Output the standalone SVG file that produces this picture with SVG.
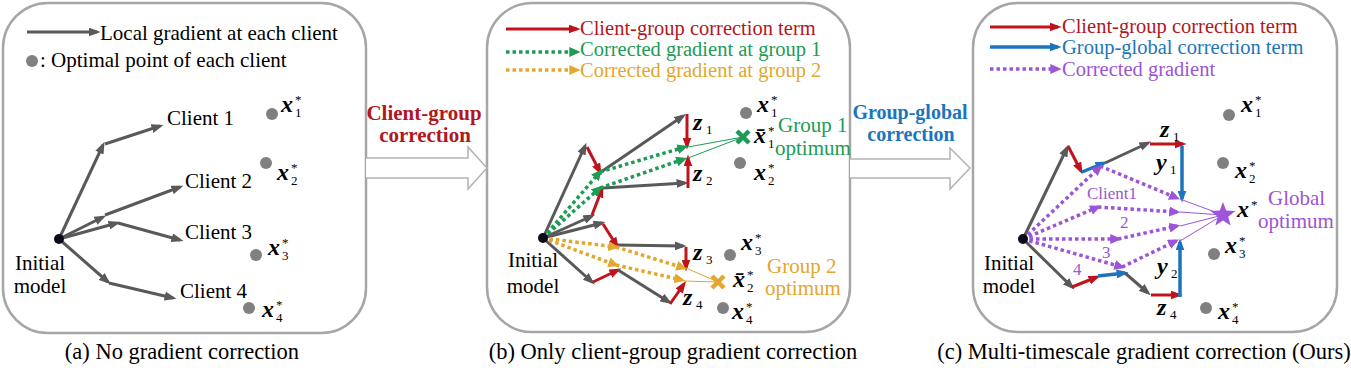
<svg xmlns="http://www.w3.org/2000/svg" width="1351" height="368" viewBox="0 0 1351 368">
<defs>
<style>
text{font-family:"Liberation Serif","Times New Roman",serif;}
.t{font-size:21px;fill:#000}
.lg{font-size:20.5px}
.cap{font-size:22.5px;text-anchor:middle;fill:#000}
.bl{font-size:20px;font-weight:bold;text-anchor:middle}
.m{font-size:24px;font-style:italic;font-weight:bold;fill:#000}
.s{font-size:13px;font-style:normal;font-weight:normal}
.pl{font-size:17px;fill:#9b55d6}
.box{fill:#fff;stroke:#a6a6a6;stroke-width:2.5}
.blk{fill:#fff;stroke:#b3b3b3;stroke-width:1.5}
.g{stroke:#595959;stroke-width:3;fill:none;marker-end:url(#ag)}
.r{stroke:#c0141c;stroke-width:3;fill:none;marker-end:url(#ar)}
.b{stroke:#1c75bc;stroke-width:3.5;fill:none;marker-end:url(#ab)}
.dg{stroke:#1c9c55;stroke-width:3.5;stroke-dasharray:3.5 3;fill:none;marker-end:url(#agr)}
.do{stroke:#e2a72e;stroke-width:3.5;stroke-dasharray:3.5 3;fill:none;marker-end:url(#ao)}
.dp{stroke:#9b55d6;stroke-width:3.5;stroke-dasharray:3.5 3;fill:none;marker-end:url(#ap)}
.thg{stroke:#1c9c55;stroke-width:1;fill:none}
.tho{stroke:#e2a72e;stroke-width:1;fill:none}
.thp{stroke:#9b55d6;stroke-width:1;fill:none}
.dot{fill:#808080}
.red{fill:#b3161e}
.grn{fill:#1c9c55}
.org{fill:#e2a72e}
.blu{fill:#1c75bc}
.pur{fill:#9b55d6}
</style>
<marker id="ag" viewBox="0 0 10 10" refX="7" refY="5" markerWidth="12" markerHeight="9" markerUnits="userSpaceOnUse" orient="auto" preserveAspectRatio="none"><path d="M0,0 L10,5 L0,10 z" fill="#595959"/></marker>
<marker id="ar" viewBox="0 0 10 10" refX="7" refY="5" markerWidth="12" markerHeight="9" markerUnits="userSpaceOnUse" orient="auto" preserveAspectRatio="none"><path d="M0,0 L10,5 L0,10 z" fill="#c0141c"/></marker>
<marker id="ab" viewBox="0 0 10 10" refX="7" refY="5" markerWidth="12" markerHeight="9" markerUnits="userSpaceOnUse" orient="auto" preserveAspectRatio="none"><path d="M0,0 L10,5 L0,10 z" fill="#1c75bc"/></marker>
<marker id="agr" viewBox="0 0 10 10" refX="7" refY="5" markerWidth="11" markerHeight="10" markerUnits="userSpaceOnUse" orient="auto" preserveAspectRatio="none"><path d="M0,0 L10,5 L0,10 z" fill="#1c9c55"/></marker>
<marker id="ao" viewBox="0 0 10 10" refX="7" refY="5" markerWidth="11" markerHeight="10" markerUnits="userSpaceOnUse" orient="auto" preserveAspectRatio="none"><path d="M0,0 L10,5 L0,10 z" fill="#e2a72e"/></marker>
<marker id="ap" viewBox="0 0 10 10" refX="7" refY="5" markerWidth="11" markerHeight="10" markerUnits="userSpaceOnUse" orient="auto" preserveAspectRatio="none"><path d="M0,0 L10,5 L0,10 z" fill="#9b55d6"/></marker>
</defs>
<rect width="1351" height="368" fill="#fff"/>

<g id="panel-a"><rect class="box" x="3" y="3" width="363" height="330" rx="45"/></g>
<g id="panel-b"><rect class="box" x="487" y="3" width="363" height="329" rx="45"/></g>
<g id="panel-c"><rect class="box" x="973" y="3" width="364" height="329" rx="45"/></g>

<g id="step-arrows">
<path class="blk" d="M366,158 L468,158 L468,147 L487,168 L468,189 L468,178 L366,178"/>
<path class="blk" d="M850,159 L950,159 L950,148 L970,168 L950,189 L950,178 L850,178"/>
</g>
<g id="step-labels">
<text class="bl red" x="424" y="120" style="font-size:21px">Client-group</text>
<text class="bl red" x="425" y="142" style="font-size:21px">correction</text>
<text class="bl blu" x="910" y="119">Group-global</text>
<text class="bl blu" x="911" y="141">correction</text>
</g>

<g id="legend-a">
<line class="g" x1="27" y1="32" x2="97" y2="32"/>
<text class="t" x="100" y="40">Local gradient at each client</text>
<circle class="dot" cx="32" cy="61" r="6"/>
<text class="t" x="40" y="67">: Optimal point of each client</text>
</g>
<g id="legend-b">
<line class="r" x1="506" y1="29" x2="577" y2="29"/>
<text class="t lg red" x="580" y="35">Client-group correction term</text>
<line class="dg" x1="506" y1="52" x2="577" y2="52"/>
<text class="t lg grn" x="580" y="56">Corrected gradient at group 1</text>
<line class="do" x1="506" y1="70" x2="577" y2="70"/>
<text class="t lg org" x="580" y="77">Corrected gradient at group 2</text>
</g>
<g id="legend-c">
<line class="r" x1="990" y1="27" x2="1058" y2="27"/>
<text class="t lg red" x="1062" y="33">Client-group correction term</text>
<line class="b" x1="990" y1="47" x2="1058" y2="47"/>
<text class="t lg blu" x="1062" y="54">Group-global correction term</text>
<line class="dp" x1="990" y1="69" x2="1058" y2="69"/>
<text class="t lg pur" x="1062" y="76">Corrected gradient</text>
</g>

<g id="connectors">
<line class="g" x1="59" y1="239" x2="103" y2="145"/>
<line class="g" x1="105" y1="144" x2="160" y2="126"/>
<line class="g" x1="59" y1="239" x2="103" y2="217"/>
<line class="g" x1="105" y1="215" x2="180" y2="187"/>
<line class="g" x1="59" y1="239" x2="117" y2="223"/>
<line class="g" x1="118" y1="223" x2="180" y2="240"/>
<line class="g" x1="59" y1="239" x2="108" y2="282"/>
<line class="g" x1="109" y1="283" x2="173" y2="298"/>
<line class="g" x1="543" y1="238" x2="585" y2="146"/>
<line class="r" x1="587" y1="147" x2="600" y2="172"/>
<line class="g" x1="601" y1="172" x2="683" y2="116"/>
<line class="r" x1="687" y1="114" x2="687" y2="146"/>
<line class="g" x1="543" y1="238" x2="592" y2="216"/>
<line class="r" x1="592" y1="215" x2="602" y2="189"/>
<line class="g" x1="603" y1="188" x2="685" y2="183"/>
<line class="r" x1="688" y1="188" x2="688" y2="158"/>
<line class="g" x1="543" y1="238" x2="602" y2="223"/>
<line class="r" x1="603" y1="224" x2="617" y2="246"/>
<line class="g" x1="617" y1="245" x2="683" y2="246"/>
<line class="r" x1="686" y1="247" x2="686" y2="268"/>
<line class="g" x1="543" y1="238" x2="592" y2="282"/>
<line class="r" x1="593" y1="282" x2="618" y2="270"/>
<line class="g" x1="618" y1="270" x2="669" y2="302"/>
<line class="r" x1="670" y1="304" x2="684" y2="284"/>
<line class="dg" x1="543" y1="238" x2="600" y2="172"/>
<line class="dg" x1="600" y1="172" x2="685" y2="147"/>
<line class="dg" x1="543" y1="238" x2="600" y2="188"/>
<line class="dg" x1="600" y1="188" x2="684" y2="159"/>
<line class="thg" x1="688" y1="147" x2="743" y2="137"/>
<line class="thg" x1="688" y1="158" x2="743" y2="137"/>
<line class="do" x1="543" y1="238" x2="616" y2="247"/>
<line class="do" x1="616" y1="247" x2="684" y2="268"/>
<line class="do" x1="543" y1="238" x2="616" y2="265"/>
<line class="do" x1="616" y1="265" x2="682" y2="280"/>
<line class="tho" x1="686" y1="268" x2="718" y2="282"/>
<line class="tho" x1="684" y1="281" x2="718" y2="282"/>
<line class="g" x1="1023" y1="239" x2="1067" y2="148"/>
<line class="r" x1="1068" y1="146" x2="1081" y2="171"/>
<line class="b" x1="1082" y1="172" x2="1104" y2="163"/>
<line class="g" x1="1105" y1="163" x2="1148" y2="143"/>
<line class="r" x1="1150" y1="144" x2="1183" y2="144"/>
<line class="b" x1="1182" y1="146" x2="1182" y2="199"/>
<line class="g" x1="1023" y1="239" x2="1072" y2="287"/>
<line class="r" x1="1072" y1="287" x2="1097" y2="277"/>
<line class="b" x1="1098" y1="276" x2="1125" y2="273"/>
<line class="g" x1="1125" y1="273" x2="1148" y2="293"/>
<line class="r" x1="1151" y1="295" x2="1179" y2="295"/>
<line class="b" x1="1180" y1="297" x2="1180" y2="242"/>
<line class="dp" x1="1023" y1="239" x2="1100" y2="167"/>
<line class="dp" x1="1100" y1="166" x2="1177" y2="198"/>
<line class="dp" x1="1023" y1="239" x2="1098" y2="207"/>
<line class="dp" x1="1098" y1="207" x2="1177" y2="212"/>
<line class="dp" x1="1023" y1="239" x2="1118" y2="239"/>
<line class="dp" x1="1118" y1="239" x2="1177" y2="226"/>
<line class="dp" x1="1023" y1="239" x2="1122" y2="267"/>
<line class="dp" x1="1122" y1="267" x2="1176" y2="241"/>
<line class="thp" x1="1180" y1="199" x2="1223" y2="215"/>
<line class="thp" x1="1180" y1="212" x2="1223" y2="215"/>
<line class="thp" x1="1180" y1="226" x2="1223" y2="215"/>
<line class="thp" x1="1180" y1="241" x2="1223" y2="215"/>
</g>

<g id="init-a"><circle cx="59" cy="239" r="5" fill="#0a0a1a"/><text class="t" x="40" y="270" text-anchor="middle">Initial</text><text class="t" x="40" y="293" text-anchor="middle">model</text></g>
<g id="init-b"><circle cx="543" cy="238" r="5" fill="#0a0a1a"/><text class="t" x="533" y="267" text-anchor="middle">Initial</text><text class="t" x="533" y="293" text-anchor="middle">model</text></g>
<g id="init-c"><circle cx="1023" cy="239" r="5" fill="#0a0a1a"/><text class="t" x="1009" y="270" text-anchor="middle">Initial</text><text class="t" x="1009" y="293" text-anchor="middle">model</text></g>

<g id="clients-a">
<text class="t" x="167" y="125">Client 1</text>
<text class="t" x="185" y="188">Client 2</text>
<text class="t" x="185" y="239">Client 3</text>
<text class="t" x="180" y="298">Client 4</text>
</g>

<g id="optima-a">
<circle class="dot" cx="272" cy="114" r="6"/>
<text class="m"><tspan x="281" y="112">x</tspan><tspan class="s" x="295" y="117">1</tspan><tspan class="s" x="295" y="104">*</tspan></text>
<circle class="dot" cx="266" cy="163" r="6"/>
<text class="m"><tspan x="277" y="180">x</tspan><tspan class="s" x="291" y="185">2</tspan><tspan class="s" x="291" y="172">*</tspan></text>
<circle class="dot" cx="256" cy="255" r="6"/>
<text class="m"><tspan x="268" y="255">x</tspan><tspan class="s" x="282" y="260">3</tspan><tspan class="s" x="282" y="247">*</tspan></text>
<circle class="dot" cx="249" cy="308" r="6"/>
<text class="m"><tspan x="262" y="317">x</tspan><tspan class="s" x="276" y="322">4</tspan><tspan class="s" x="276" y="309">*</tspan></text>
</g>

<g id="optima-b">
<circle class="dot" cx="746" cy="113" r="6"/>
<text class="m"><tspan x="757" y="112">x</tspan><tspan class="s" x="771" y="117">1</tspan><tspan class="s" x="771" y="104">*</tspan></text>
<circle class="dot" cx="740" cy="163" r="6"/>
<text class="m"><tspan x="754" y="180">x</tspan><tspan class="s" x="768" y="185">2</tspan><tspan class="s" x="768" y="172">*</tspan></text>
<circle class="dot" cx="730" cy="255" r="6"/>
<text class="m"><tspan x="741" y="250">x</tspan><tspan class="s" x="755" y="255">3</tspan><tspan class="s" x="755" y="242">*</tspan></text>
<circle class="dot" cx="723" cy="308" r="6"/>
<text class="m"><tspan x="732" y="319">x</tspan><tspan class="s" x="746" y="324">4</tspan><tspan class="s" x="746" y="311">*</tspan></text>
</g>

<g id="group1-opt">
<path d="M737,131 L749,143 M749,131 L737,143" stroke="#1c9c55" stroke-width="4.5"/>
<text class="m"><tspan x="754" y="143">x̄</tspan><tspan class="s" x="768" y="148">1</tspan><tspan class="s" x="768" y="135">*</tspan></text>
<text class="t grn" x="778" y="132">Group 1</text>
<text class="t grn" x="775" y="155">optimum</text>
</g>
<g id="group2-opt">
<path d="M712,276 L724,288 M724,276 L712,288" stroke="#e2a72e" stroke-width="4.5"/>
<text class="m"><tspan x="733" y="287">x̄</tspan><tspan class="s" x="747" y="292">2</tspan><tspan class="s" x="747" y="279">*</tspan></text>
<text class="t org" x="767" y="273">Group 2</text>
<text class="t org" x="765" y="295">optimum</text>
</g>

<g id="zlabels-b">
<text class="m"><tspan x="693" y="130">z</tspan><tspan class="s" x="706" y="134">1</tspan></text>
<text class="m"><tspan x="693" y="181">z</tspan><tspan class="s" x="706" y="185">2</tspan></text>
<text class="m"><tspan x="693" y="260">z</tspan><tspan class="s" x="706" y="264">3</tspan></text>
<text class="m"><tspan x="683" y="305">z</tspan><tspan class="s" x="696" y="309">4</tspan></text>
</g>

<g id="optima-c">
<circle class="dot" cx="1229" cy="115" r="6"/>
<text class="m"><tspan x="1241" y="112">x</tspan><tspan class="s" x="1255" y="117">1</tspan><tspan class="s" x="1255" y="104">*</tspan></text>
<circle class="dot" cx="1223" cy="163" r="6"/>
<text class="m"><tspan x="1235" y="178">x</tspan><tspan class="s" x="1249" y="183">2</tspan><tspan class="s" x="1249" y="170">*</tspan></text>
<circle class="dot" cx="1214" cy="254" r="6"/>
<text class="m"><tspan x="1225" y="253">x</tspan><tspan class="s" x="1239" y="258">3</tspan><tspan class="s" x="1239" y="245">*</tspan></text>
<circle class="dot" cx="1206" cy="308" r="6"/>
<text class="m"><tspan x="1218" y="319">x</tspan><tspan class="s" x="1232" y="324">4</tspan><tspan class="s" x="1232" y="311">*</tspan></text>
</g>

<g id="global-opt">
<path d="M1223,202 L1226.2,210.6 L1235.4,211 L1228.2,216.7 L1230.6,225.5 L1223,220.4 L1215.4,225.5 L1217.8,216.7 L1210.6,211 L1219.8,210.6 Z" fill="#9b55d6"/>
<text class="m"><tspan x="1237" y="217">x</tspan><tspan class="s" x="1251" y="209">*</tspan></text>
<text class="t pur" x="1268" y="205">Global</text>
<text class="t pur" x="1258" y="228">optimum</text>
</g>

<g id="zylabels-c">
<text class="m"><tspan x="1160" y="137">z</tspan><tspan class="s" x="1173" y="141">1</tspan></text>
<text class="m"><tspan x="1156" y="170">y</tspan><tspan class="s" x="1170" y="174">1</tspan></text>
<text class="m"><tspan x="1157" y="274">y</tspan><tspan class="s" x="1171" y="278">2</tspan></text>
<text class="m"><tspan x="1157" y="315">z</tspan><tspan class="s" x="1170" y="319">4</tspan></text>
</g>

<g id="client-labels-c">
<text class="pl" x="1087" y="199">Client1</text>
<text class="pl" x="1120" y="228">2</text>
<text class="pl" x="1102" y="258">3</text>
<text class="pl" x="1073" y="275">4</text>
</g>

<g id="captions">
<text class="cap" x="182" y="359">(a) No gradient correction</text>
<text class="cap" x="673" y="359">(b) Only client-group gradient correction</text>
<text class="cap" x="1144" y="359">(c) Multi-timescale gradient correction (Ours)</text>
</g>
</svg>
